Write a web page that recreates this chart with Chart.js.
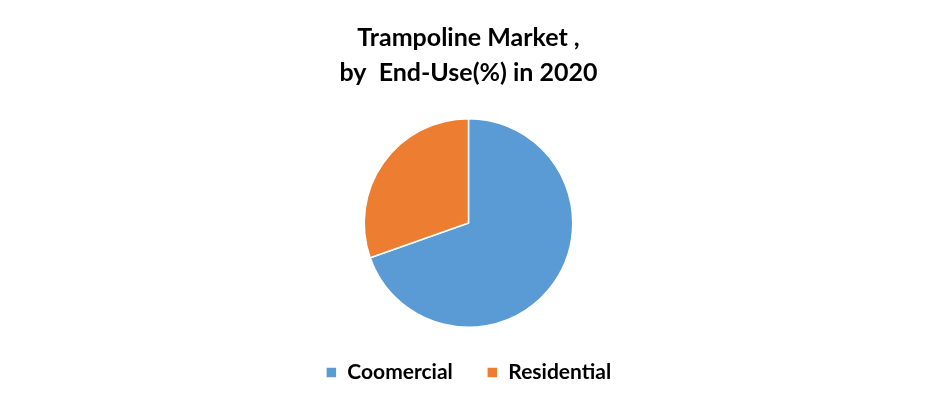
<!DOCTYPE html><html><head><script src="https://cdn.jsdelivr.net/npm/chart.js@4"></script>
<style>html,body{margin:0;background:#fff}#w{width:937px;height:407px}</style></head><body><div id="w"><canvas id="c"></canvas></div>
<script>
const categories=["Coomercial","Residential"];
const values=[69.6,30.4];
const colors=["#5B9BD5","#ED7D31"];
new Chart(document.getElementById('c'),{type:'pie',data:{labels:categories,datasets:[{data:values,backgroundColor:colors,borderColor:'#fff',borderWidth:1.5}]},
options:{responsive:true,maintainAspectRatio:false,animation:false,layout:{padding:{top:14,bottom:14}},
plugins:{title:{display:true,text:["Trampoline Market ,","by  End-Use(%) in 2020"],color:'#000',font:{family:'Lato',size:25,weight:'bold',lineHeight:1.4},padding:{top:6,bottom:28}},
legend:{position:'bottom',labels:{color:'#000',font:{family:'Lato',size:21,weight:'bold'},boxWidth:11,boxHeight:11,padding:34}},tooltip:{enabled:false}}}});
</script></body></html>
